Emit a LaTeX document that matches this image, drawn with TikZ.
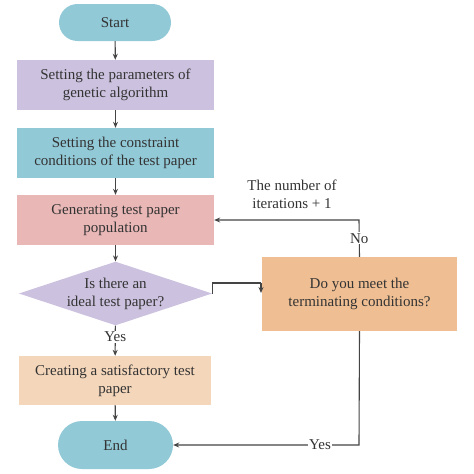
\documentclass[tikz,border=0pt]{standalone}
\usepackage{fontspec}
\setmainfont{Liberation Serif}
\usetikzlibrary{shapes.geometric,arrows.meta,calc}
\definecolor{cteal}{HTML}{92C9D7}
\definecolor{clav}{HTML}{CCC2DF}
\definecolor{cpink}{HTML}{E8B7B6}
\definecolor{corange}{HTML}{EFBF93}
\definecolor{cpeach}{HTML}{F4D6BA}
\definecolor{ctext}{HTML}{333333}
\definecolor{cline}{HTML}{444444}
\begin{document}
\begin{tikzpicture}[x=1pt,y=-1pt,
  every node/.style={text=ctext,font=\fontsize{15}{18}\selectfont},
  procbox/.style={rectangle,draw=none,minimum width=197pt,minimum height=50pt,inner sep=0pt,align=center},
  termbox/.style={rectangle,draw=none,align=center,inner sep=0pt},
  decbox/.style={diamond,draw=none,aspect=3.03,minimum width=191pt,minimum height=63pt,inner sep=0pt,align=center},
  conn/.style={draw=cline,line width=1.1pt,-{Stealth[length=6pt,width=5pt]}},
  plain/.style={draw=cline,line width=1.1pt},
  lbl/.style={fill=white,inner sep=1pt}]
\useasboundingbox (0,0) rectangle (474,474);
\node[termbox,fill=cteal,minimum width=112pt,minimum height=37pt,rounded corners=18.5pt] (start) at (115,22.5) {Start};
\node[procbox,fill=clav] (p1) at (115.5,85) {Setting the parameters of\\genetic algorithm};
\node[procbox,fill=cteal] (p2) at (115.5,153) {Setting the constraint\\conditions of the test paper};
\node[procbox,fill=cpink] (p3) at (115.5,220) {Generating test paper\\population};
\node[decbox,fill=clav] (d) at (115.5,293.5) {Is there an\\ideal test paper?};
\node[procbox,fill=corange,minimum width=195pt,minimum height=74pt] (t) at (359.5,294) {Do you meet the\\terminating conditions?};
\node[procbox,fill=cpeach,minimum width=192pt,minimum height=49pt] (c) at (115,380.5) {Creating a satisfactory test\\paper};
\node[termbox,fill=cteal,minimum width=115pt,minimum height=48pt,rounded corners=24pt] (end) at (115.5,445) {End};
\node[align=center] (iter) at (292,194) {The number of\\iterations + 1};
\coordinate (j1) at (261,283);
\coordinate (j2) at (261,293);
\coordinate (k1) at (359,220);
\coordinate (k2) at (359,445);
\draw[conn] (start) -- (p1);
\draw[conn] (p1) -- (p2);
\draw[conn] (p2) -- (p3);
\draw[conn] (p3) -- (d);
\draw[conn] (d) -- node[lbl,pos=0.38] (yes1) {Yes} (c);
\draw[conn] (c) -- (end);
\draw[plain] (d.east) |- (j1);
\draw[conn] (j1) -- (j2);
\draw[conn] (t.north) -- node[lbl,pos=0.5] (no) {No} (k1) -- (p3.east);
\draw[conn] (t.south) -- (k2) -- node[lbl,pos=0.21] (yes2) {Yes} (end.east);
\end{tikzpicture}
\end{document}
